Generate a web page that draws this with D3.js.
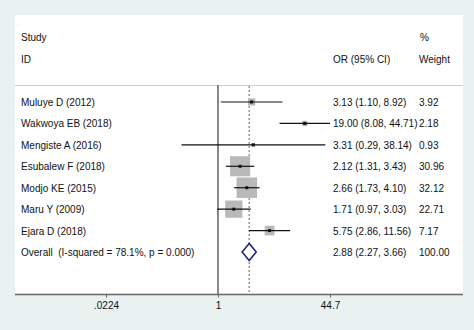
<!DOCTYPE html>
<html lang='en'>
<head>
  <meta charset="utf-8">
  <title>Forest plot</title>
  <script src="https://d3js.org/d3.v7.min.js" charset="utf-8"></script>
  <style>
  body { margin: 0; background: #e9f1f1; }
  text { font-family: "Liberation Sans", Arial, sans-serif; font-size: 10px; fill: #111; white-space: pre; }
  </style>
</head>
<body>
  <script>
    // data
    var studies = ["Muluye D (2012)", "Wakwoya EB (2018)", "Mengiste A (2016)", "Esubalew F (2018)",
                   "Modjo KE (2015)", "Maru Y (2009)", "Ejara D (2018)"];
    var ors     = [3.13, 19.00, 3.31, 2.12, 2.66, 1.71, 5.75];
    var lows    = [1.10, 8.08, 0.29, 1.31, 1.73, 0.97, 2.86];
    var highs   = [8.92, 44.71, 38.14, 3.43, 4.10, 3.03, 11.56];
    var weights = [3.92, 2.18, 0.93, 30.96, 32.12, 22.71, 7.17];
    var overall = {label: "Overall  (I-squared = 78.1%, p = 0.000)", or: 2.88, lo: 2.27, hi: 3.66, w: 100.00};
    var tickVals = [0.0224, 1, 44.7];
    var tickLabels = [".0224", "1", "44.7"];

    var width = 474, height = 330;

    var svg = d3.select("body").append("svg")
      .attr("width", width)
      .attr("height", height);

    // white panel
    svg.append("rect")
      .attr("x", 15).attr("y", 15)
      .attr("width", 448).attr("height", 280)
      .attr("fill", "#fff");

    var x = d3.scaleLog()
      .domain([0.0224, 44.7])
      .range([106, 330]);

    var rows = studies.concat([overall.label]);
    var y = d3.scalePoint()
      .domain(d3.range(rows.length))
      .range([102, 252]);

    var fmt = d3.format(".2f");

    // headers
    svg.append("text").attr("x", 21).attr("y", 41).text("Study");
    svg.append("text").attr("x", 21).attr("y", 63).text("ID");
    svg.append("text").attr("x", 333).attr("y", 63).text("OR (95% CI)");
    svg.append("text").attr("x", 420).attr("y", 41).text("%");
    svg.append("text").attr("x", 419).attr("y", 63).text("Weight");
    svg.append("text").attr("x", 17).attr("y", 26).style("font-size", "6px").style("fill", "#aaa").text(".");

    // header separator
    svg.append("line")
      .attr("x1", 15).attr("x2", 463).attr("y1", 85.5).attr("y2", 85.5)
      .attr("stroke", "#ccc").attr("stroke-width", 1);

    // null line
    svg.append("line")
      .attr("x1", x(1)).attr("x2", x(1)).attr("y1", 85).attr("y2", 295)
      .attr("stroke", "#555").attr("stroke-width", 1.4);

    // overall effect line
    svg.append("line")
      .attr("x1", x(overall.or)).attr("x2", x(overall.or)).attr("y1", 86).attr("y2", 295)
      .attr("stroke", "#a0708a").attr("stroke-width", 1.2)
      .attr("stroke-dasharray", "2,2");

    var maxW = d3.max(weights);
    var boxSize = d3.scaleSqrt().domain([0, maxW]).range([0, 20.5]);

    var g = svg.append("g");

    studies.forEach(function(s, i) {
      var yy = y(i);
      var b = boxSize(weights[i]);
      g.append("rect")
        .attr("x", x(ors[i]) - b / 2).attr("y", yy - b / 2)
        .attr("width", b).attr("height", b)
        .attr("fill", "#b9b9b9");
      g.append("line")
        .attr("x1", x(lows[i])).attr("x2", x(highs[i]))
        .attr("y1", yy).attr("y2", yy)
        .attr("stroke", "#111").attr("stroke-width", 1.2);
      g.append("rect")
        .attr("x", x(ors[i]) - 1.5).attr("y", yy - 1.5)
        .attr("width", 3).attr("height", 3)
        .attr("fill", "#111");

      svg.append("text").attr("x", 21).attr("y", yy + 4).text(s);
      svg.append("text").attr("x", 333).attr("y", yy + 4)
        .text(fmt(ors[i]) + " (" + fmt(lows[i]) + ", " + fmt(highs[i]) + ")");
      svg.append("text").attr("x", 419).attr("y", yy + 4).text(fmt(weights[i]));
    });

    // overall diamond
    var yo = y(studies.length);
    g.append("path")
      .attr("d", "M" + x(overall.lo) + "," + yo +
                 "L" + x(overall.or) + "," + (yo - 8.5) +
                 "L" + x(overall.hi) + "," + yo +
                 "L" + x(overall.or) + "," + (yo + 8.5) + "Z")
      .attr("fill", "#fff")
      .attr("stroke", "#1c1c78").attr("stroke-width", 1.5);

    svg.append("text").attr("x", 21).attr("y", yo + 4).text(overall.label);
    svg.append("text").attr("x", 333).attr("y", yo + 4)
      .text(fmt(overall.or) + " (" + fmt(overall.lo) + ", " + fmt(overall.hi) + ")");
    svg.append("text").attr("x", 419).attr("y", yo + 4).text(fmt(overall.w));

    // axis
    svg.append("line")
      .attr("x1", 15).attr("x2", 463).attr("y1", 294.5).attr("y2", 294.5)
      .attr("stroke", "#666").attr("stroke-width", 1.5);

    var ax = svg.append("g")
      .attr("transform", "translate(0,294.5)")
      .call(d3.axisBottom(x)
        .tickValues(tickVals)
        .tickSize(3)
        .tickFormat(function(d, i) { return tickLabels[i]; }));
    ax.select(".domain").remove();
    ax.selectAll(".tick line").attr("stroke", "#666");
    ax.selectAll(".tick text")
      .attr("font-family", null).attr("font-size", null)
      .attr("dy", "0.71em").attr("y", 7);
  </script>
</body>
</html>
